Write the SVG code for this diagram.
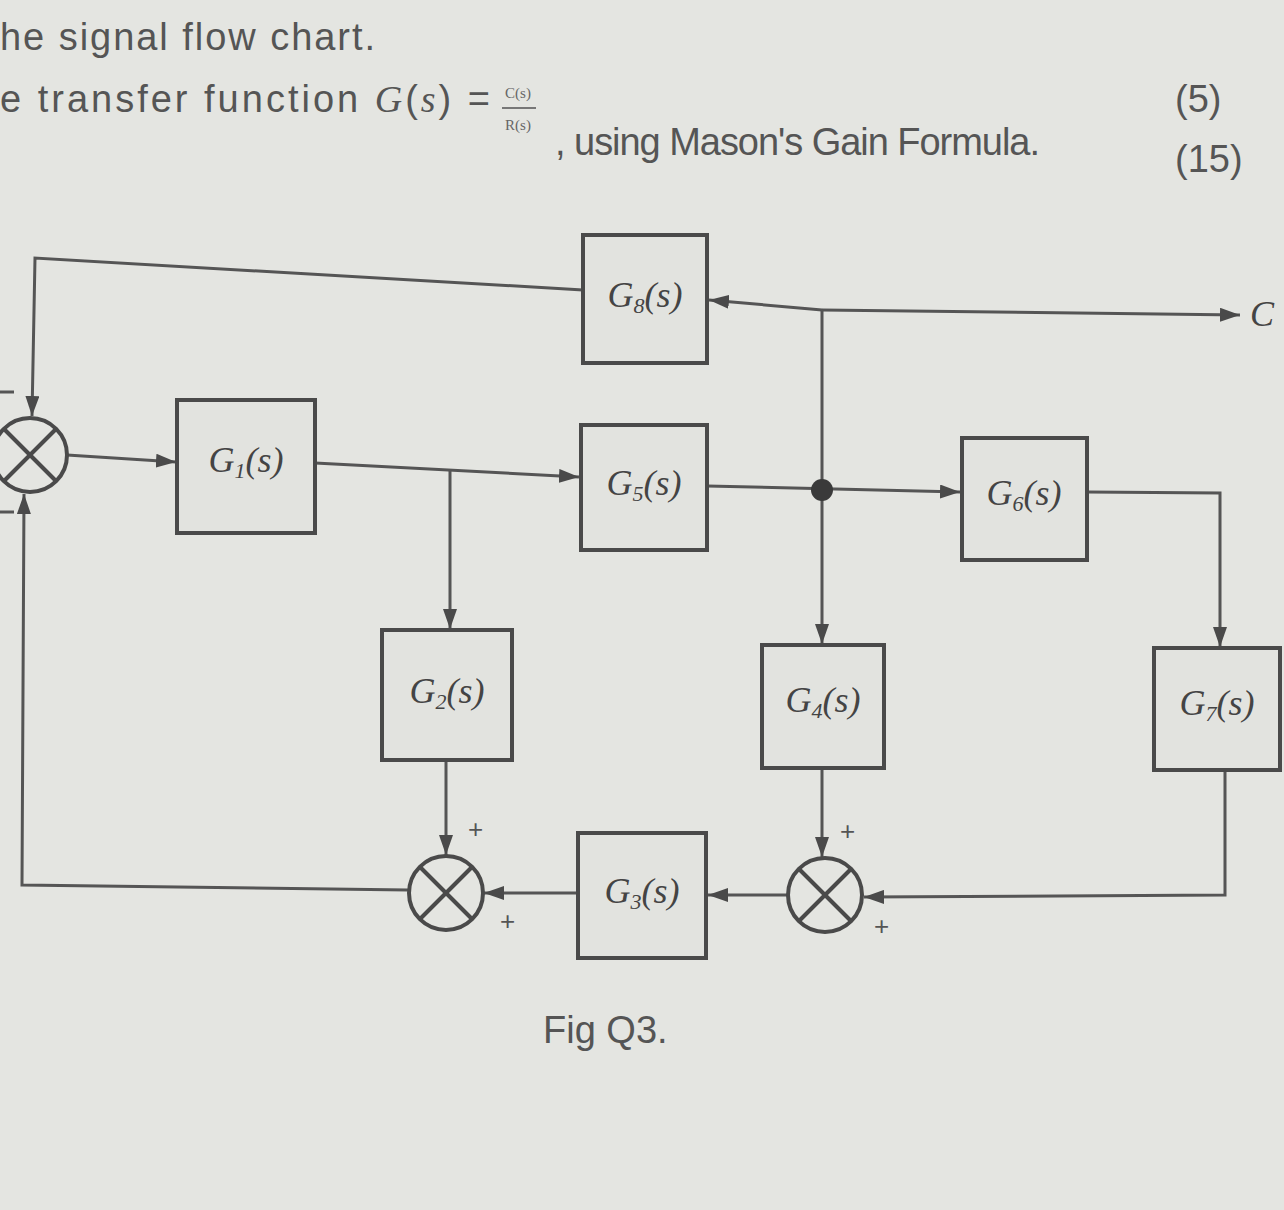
<svg xmlns="http://www.w3.org/2000/svg" width="1284" height="1210" viewBox="0 0 1284 1210">
<defs>
<marker id="ar" viewBox="0 0 10 10" refX="10" refY="5" markerWidth="20" markerHeight="14" orient="auto" markerUnits="userSpaceOnUse" preserveAspectRatio="none"><path d="M0,0 L10,5 L0,10 z" fill="#4a4a4a"/></marker>
<style>
.bx{fill:#e2e3df;stroke:#4a4a4a;stroke-width:4}
.ln{fill:none;stroke:#555;stroke-width:3;marker-end:url(#ar)}
.pl{fill:none;stroke:#555;stroke-width:3}
.sm{fill:none;stroke:#4a4a4a;stroke-width:4}
.g{font-family:"Liberation Serif",serif;font-style:italic;font-size:36px;fill:#444;text-anchor:middle}
.t{font-family:"Liberation Sans",sans-serif;font-size:38px;fill:#555}
.p{font-family:"Liberation Sans",sans-serif;font-size:26px;fill:#555}
</style>
</defs>
<rect width="1284" height="1210" fill="#e4e5e1"/>
<text class="t" x="0" y="50" font-size="40" textLength="375">he signal flow chart.</text>
<text class="t" x="0" y="112" textLength="490">e transfer function <tspan font-style="italic" font-family="Liberation Serif">G</tspan>(<tspan font-style="italic" font-family="Liberation Serif">s</tspan>) =</text>
<text x="518" y="98" font-family="Liberation Serif" font-size="15" fill="#666" text-anchor="middle">C(s)</text>
<line x1="502" y1="108" x2="536" y2="108" stroke="#777" stroke-width="2"/>
<text x="518" y="130" font-family="Liberation Serif" font-size="15" fill="#666" text-anchor="middle">R(s)</text>
<text class="t" x="555" y="155" font-size="34" textLength="485">, using Mason's Gain Formula.</text>
<text class="t" x="1175" y="112" font-size="32">(5)</text>
<text class="t" x="1175" y="172" font-size="32">(15)</text>
<g id="conn">
<polyline class="ln" points="822,310 1240,315"/>
<polyline class="ln" points="822,310 709,300"/>
<polyline class="ln" points="583,290 35,258 32,416"/>
<line class="ln" x1="67" y1="455" x2="176" y2="462"/>
<line class="ln" x1="315" y1="463" x2="579" y2="477"/>
<polyline class="ln" points="450,470 450,629"/>
<polyline class="ln" points="707,486 960,492"/>
<polyline class="ln" points="822,310 822,644"/>
<polyline class="ln" points="1087,492 1220,493 1220,647"/>
<polyline class="ln" points="1225,770 1225,895 864,897"/>
<polyline class="ln" points="822,768 822,857"/>
<line class="ln" x1="788" y1="895" x2="708" y2="895"/>
<line class="ln" x1="578" y1="893" x2="484" y2="893"/>
<polyline class="ln" points="446,760 446,855"/>
<polyline class="ln" points="408,890 22,885 24,494"/>
<circle cx="822" cy="490" r="11" fill="#3a3a3a"/>
</g>
<g id="sum1"><circle class="sm" cx="30" cy="455" r="37"/><line class="sm" x1="4" y1="429" x2="56" y2="481"/><line class="sm" x1="56" y1="429" x2="4" y2="481"/><line class="pl" x1="0" y1="392" x2="14" y2="392"/><line class="pl" x1="0" y1="512" x2="14" y2="512"/></g>
<g id="sum2"><circle class="sm" cx="446" cy="893" r="37"/><line class="sm" x1="420" y1="867" x2="472" y2="919"/><line class="sm" x1="472" y1="867" x2="420" y2="919"/><text class="p" x="468" y="838">+</text><text class="p" x="500" y="930">+</text></g>
<g id="sum3"><circle class="sm" cx="825" cy="895" r="37"/><line class="sm" x1="799" y1="869" x2="851" y2="921"/><line class="sm" x1="851" y1="869" x2="799" y2="921"/><text class="p" x="840" y="840">+</text><text class="p" x="874" y="935">+</text></g>
<g id="G8"><rect class="bx" x="583" y="235" width="124" height="128"/><text class="g" x="645" y="307">G<tspan font-size="22" dy="6">8</tspan><tspan dy="-6">(s)</tspan></text></g>
<g id="G1"><rect class="bx" x="177" y="400" width="138" height="133"/><text class="g" x="246" y="472">G<tspan font-size="22" dy="6">1</tspan><tspan dy="-6">(s)</tspan></text></g>
<g id="G5"><rect class="bx" x="581" y="425" width="126" height="125"/><text class="g" x="644" y="495">G<tspan font-size="22" dy="6">5</tspan><tspan dy="-6">(s)</tspan></text></g>
<g id="G6"><rect class="bx" x="962" y="438" width="125" height="122"/><text class="g" x="1024" y="505">G<tspan font-size="22" dy="6">6</tspan><tspan dy="-6">(s)</tspan></text></g>
<g id="G2"><rect class="bx" x="382" y="630" width="130" height="130"/><text class="g" x="447" y="703">G<tspan font-size="22" dy="6">2</tspan><tspan dy="-6">(s)</tspan></text></g>
<g id="G4"><rect class="bx" x="762" y="645" width="122" height="123"/><text class="g" x="823" y="712">G<tspan font-size="22" dy="6">4</tspan><tspan dy="-6">(s)</tspan></text></g>
<g id="G7"><rect class="bx" x="1154" y="648" width="126" height="122"/><text class="g" x="1217" y="715">G<tspan font-size="22" dy="6">7</tspan><tspan dy="-6">(s)</tspan></text></g>
<g id="G3"><rect class="bx" x="578" y="833" width="128" height="125"/><text class="g" x="642" y="903">G<tspan font-size="22" dy="6">3</tspan><tspan dy="-6">(s)</tspan></text></g>
<text class="g" x="1262" y="326" font-size="26" text-anchor="start">C</text>
<text class="t" x="543" y="1043" font-size="36" fill="#333">Fig Q3.</text>
</svg>
